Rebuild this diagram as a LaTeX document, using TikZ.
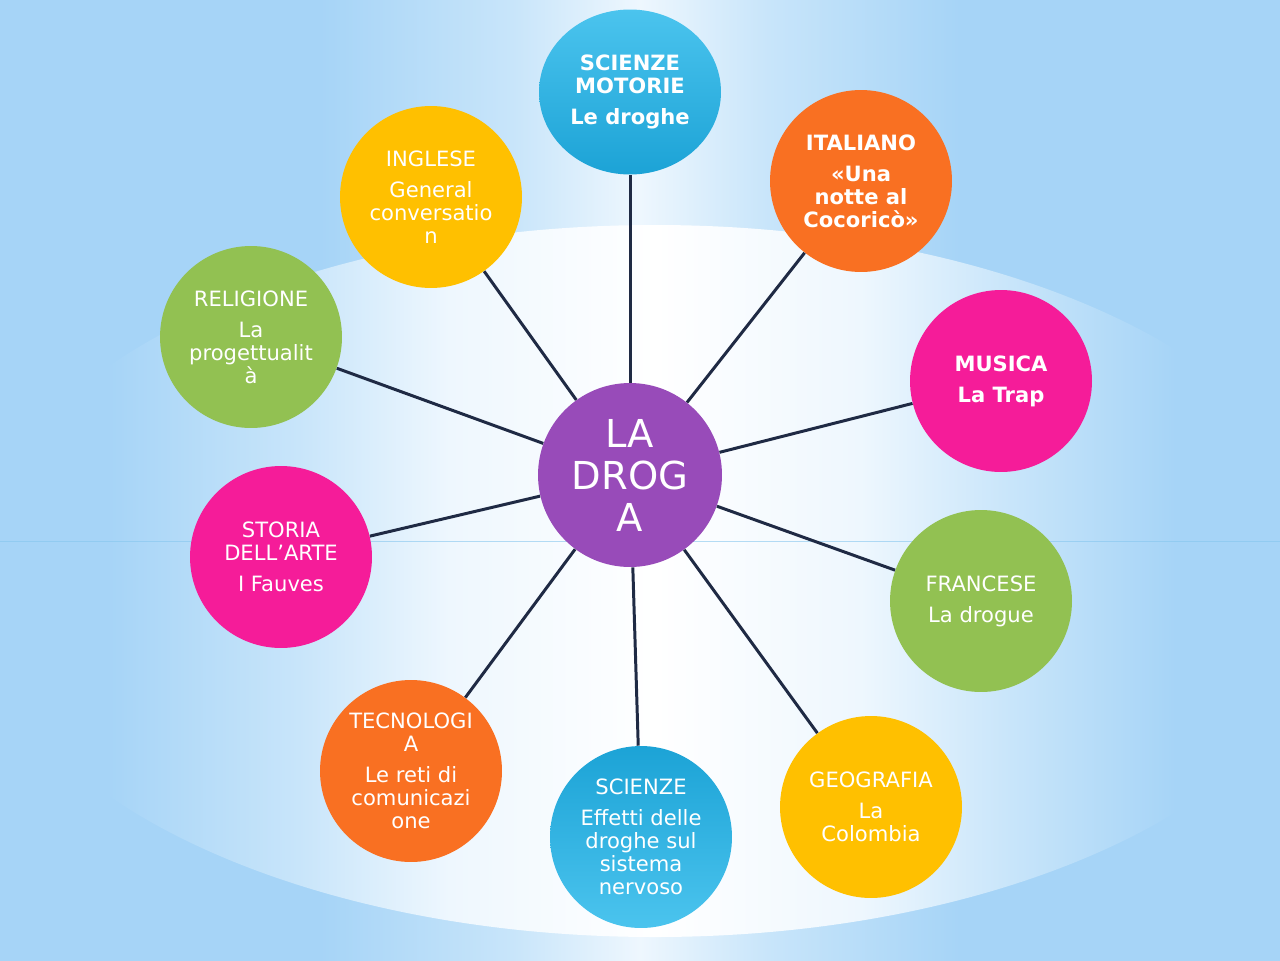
\documentclass[tikz,border=0pt]{standalone}
\usepackage{fontspec}
\setmainfont{DejaVu Sans}
\usepackage{tikz}
\usetikzlibrary{shapes.geometric, positioning}

\definecolor{bgblue}{HTML}{A6D4F7}
\definecolor{bglight}{HTML}{EEF7FE}
\definecolor{bgmid}{HTML}{C8E5FA}
\definecolor{bgline}{HTML}{86C6EE}
\definecolor{skyA}{HTML}{4BC4EE}
\definecolor{skyB}{HTML}{1CA3D6}
\definecolor{orangeT}{HTML}{F97022}
\definecolor{pinkT}{HTML}{F51C99}
\definecolor{greenT}{HTML}{92C152}
\definecolor{yellowT}{HTML}{FFC000}
\definecolor{purpleT}{HTML}{984BB9}
\definecolor{linkcol}{HTML}{1F2A44}

% the path covers 25bp..75bp of a shading
\pgfdeclarehorizontalshading{bgband}{100bp}{color(0bp)=(bgblue); color(37.5bp)=(bgblue);
  color(45bp)=(bgmid); color(50bp)=(bglight); color(55bp)=(bgmid);
  color(62.5bp)=(bgblue); color(100bp)=(bgblue)}
\pgfdeclarehorizontalshading{glow}{100bp}{color(0bp)=(bgblue); color(30bp)=(bgblue);
  color(37bp)=(bgmid); color(42.5bp)=(bglight); color(50bp)=(white);
  color(57.5bp)=(bglight); color(63bp)=(bgmid); color(69bp)=(bgblue);
  color(100bp)=(bgblue)}

\begin{document}
\begin{tikzpicture}[x=0.02cm, y=-0.02cm,
    topic/.style={draw=none, circle, minimum size=3.64cm, inner sep=0pt,
                  text=white, align=center,
                  font=\fontsize{12}{13.1}\selectfont},
    hub/.style  ={topic, minimum size=3.68cm, fill=purpleT,
                  font=\fontsize{21.9}{23.9}\selectfont},
    link/.style ={draw=linkcol, line width=1.7pt}
  ]
  \useasboundingbox (0,0) rectangle (1280,960);

  % Background
  \shade[shading=bgband] (0,0) rectangle (1280,960);
  \shade[shading=glow] (655,581) ellipse [x radius=685, y radius=356];
  \draw[bgline, opacity=0.6, line width=0.5pt] (0,541) -- (1280,541);

  % Nodes
  \node[hub] (drug) at (630,475) {LA\\DROG\\A};
  \node[topic, ellipse, minimum width=3.64cm, minimum height=3.3cm,
        top color=skyA, bottom color=skyB, font=\fontsize{12}{13.1}\selectfont\bfseries]
        (motor) at (630,92) {SCIENZE\\MOTORIE\\[4.5pt]Le droghe};
  \node[topic, fill=orangeT, font=\fontsize{12}{13.1}\selectfont\bfseries]
        (ita) at (861,181) {ITALIANO\\[4.5pt]«Una\\notte al\\Cocoricò»};
  \node[topic, fill=pinkT, font=\fontsize{12}{13.1}\selectfont\bfseries]
        (music) at (1001,381) {MUSICA\\[4.5pt]La Trap};
  \node[topic, fill=greenT] (fra) at (981,601) {FRANCESE\\[4.5pt]La drogue};
  \node[topic, fill=yellowT] (geo) at (871,807) {GEOGRAFIA\\[4.5pt]La\\Colombia};
  \node[topic, top color=skyB, bottom color=skyA]
        (sci) at (641,837) {SCIENZE\\[4.5pt]Effetti delle\\droghe sul\\sistema\\nervoso};
  \node[topic, fill=orangeT] (tech) at (411,771) {TECNOLOGI\\A\\[4.5pt]Le reti di\\comunicazi\\one};
  \node[topic, fill=pinkT] (art) at (281,557) {STORIA\\DELL’ARTE\\[4.5pt]I Fauves};
  \node[topic, fill=greenT] (rel) at (251,337) {RELIGIONE\\[4.5pt]La\\progettualit\\à};
  \node[topic, fill=yellowT] (eng) at (431,197) {INGLESE\\[4.5pt]General\\conversatio\\n};

  % Spokes
  \foreach \n in {motor, ita, music, fra, geo, sci, tech, art, rel, eng}
    \draw[link] (drug) -- (\n);
\end{tikzpicture}
\end{document}
